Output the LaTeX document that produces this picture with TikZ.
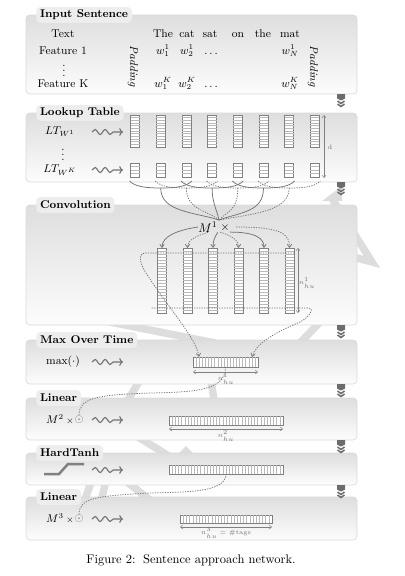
\documentclass[tikz,border=0pt]{standalone}
\usetikzlibrary{calc,decorations.pathmorphing,arrows.meta}
\newdimen\U
\U=0.8pt
\newcommand\hrowsof[2]{%
  \pgfmathtruncatemacro\nlastrow{#2-1}%
  \foreach \k in {1,...,\nlastrow}{%
    \draw[rowline] ($(#1.north west)!\k/#2!(#1.south west)$) -- ($(#1.north east)!\k/#2!(#1.south east)$);}}
\newcommand\vcolsof[2]{%
  \pgfmathtruncatemacro\nlastcol{#2-1}%
  \foreach \k in {1,...,\nlastcol}{%
    \draw[rowline] ($(#1.north west)!\k/#2!(#1.north east)$) -- ($(#1.south west)!\k/#2!(#1.south east)$);}}
\newcommand\vvec[6]{%
  \node[vecbox, anchor=north west, minimum width=#4*\U, minimum height=#5*\U] (#1) at (#2,#3) {};
  \hrowsof{#1}{#6}}
\newcommand\hvec[6]{%
  \node[vecbox, anchor=north west, minimum width=#4*\U, minimum height=#5*\U] (#1) at (#2,#3) {};
  \vcolsof{#1}{#6}}
\newcommand\stagebox[4]{%
  \node[stage, anchor=north west, minimum width=331*\U, minimum height=(#3-#2)*\U] (#1) at (26,#2) {};
  \node[tabbox] (#1t) at (36,#2) {#4};}
\newcommand\chevron[1]{%
  \fill[chevcol] (337,#1) -- (345,#1) -- (345,#1+4.5) -- (341,#1+6.5) -- (337,#1+4.5) -- cycle;
  \draw[chevcol, line width=1.2pt] (337.5,#1+7) -- (341,#1+9.5) -- (344.5,#1+7);
  \draw[chevcol, line width=1.2pt] (337.5,#1+10) -- (341,#1+12.5) -- (344.5,#1+10);}
\colorlet{chevcol}{gray!85!black}
\colorlet{linecol}{gray!90!black}
\tikzset{
  stage/.style={draw=gray!30, line width=0.5pt, rounded corners=3pt, top color=gray!26, bottom color=gray!2, inner sep=0pt, outer sep=0pt},
  tabbox/.style={fill=gray!14, rounded corners=3pt, font=\small\bfseries, inner xsep=3pt, inner ysep=1pt, minimum height=12.5pt, anchor=west},
  vecbox/.style={draw=gray, fill=white, inner sep=0pt, outer sep=0pt, line width=0.6pt},
  rowline/.style={gray!55, line width=0.3pt},
  conn/.style={linecol, line width=0.6pt},
  dotc/.style={linecol, line width=0.6pt, dash pattern=on 1pt off 1pt},
  tipa/.style={-{Straight Barb[length=2.5pt,width=3.5pt]}},
  dimarrow/.style={gray, line width=0.4pt, {Straight Barb[length=1.8pt,width=3pt]}-{Straight Barb[length=1.8pt,width=3pt]}},
  dimlabel/.style={font=\tiny, text=gray!90!black, inner sep=0.5pt},
  squig/.style={linecol, line width=0.9pt, decorate, decoration={snake, amplitude=2pt, segment length=8pt, post length=4pt}, -{To[length=3pt]}},
  txt/.style={font=\small, inner sep=0pt},
  bgband/.style={gray!27, line width=6pt, line cap=round},
}
\begin{document}
\begin{tikzpicture}[x=0.8pt, y=-0.8pt]
\useasboundingbox (0,0) rectangle (405,576);

% background decoration bands
\draw[bgband] (333,200) -- (372,262) -- (357,258);
\fill[gray!27] (322,201) -- (342,186) -- (342,201) -- cycle;
\draw[bgband] (110,322) -- (215,343);
\draw[bgband] (300,343) -- (322,320);
\draw[bgband] (140,380) -- (128,400);
\draw[bgband] (211,380) -- (214,400);
\draw[bgband] (135,435) -- (172,458);
\fill[gray!27] (176,456) -- (186,446) -- (196,456) -- cycle;
\draw[bgband] (92,480) -- (84,502);
\draw[bgband] (106,480) -- (101,502);
\draw[bgband] (127,482) -- (150,500);

% stages
\stagebox{b1}{15}{94}{Input Sentence}
\stagebox{b2}{113}{182}{Lookup Table}
\stagebox{b3}{205}{325}{Convolution}
\stagebox{b4}{340}{384}{Max Over Time}
\stagebox{b5}{398}{440}{Linear}
\stagebox{b6}{453}{485}{HardTanh}
\stagebox{b7}{497}{540}{Linear}

\chevron{94}
\chevron{182}
\chevron{325}
\chevron{384}
\chevron{440}
\chevron{485}

% ---------- Input sentence ----------
\node[txt, anchor=base] (ttext) at (63,37) {Text};
\node[txt, anchor=base] (tf1) at (63,54) {Feature 1};
\node[txt] (tvd) at (64,67) {$\vdots$};
\node[txt, anchor=base] (tfk) at (63,87) {Feature K};
\node[txt, rotate=-90] (padl) at (133,66) {\itshape Padding};
\node[txt, rotate=-90] (padr) at (313,66) {\itshape Padding};
\foreach \xx/\ww/\nm in {163/The/a,187/cat/b,210/sat/c,238/on/d,263/the/e,290/mat/f}
  \node[txt, anchor=base] (word\nm) at (\xx,37) {\ww};
\node[txt, anchor=base] (w11) at (163,54) {$w_1^1$};
\node[txt, anchor=base] (w21) at (187,54) {$w_2^1$};
\node[txt, anchor=base] (wd1) at (211,54) {$\ldots$};
\node[txt, anchor=base] (wn1) at (290,54) {$w_N^1$};
\node[txt, anchor=base] (w1k) at (163,87) {$w_1^K$};
\node[txt, anchor=base] (w2k) at (187,87) {$w_2^K$};
\node[txt, anchor=base] (wdk) at (211,87) {$\ldots$};
\node[txt, anchor=base] (wnk) at (290,87) {$w_N^K$};

% ---------- Lookup table ----------
\node[txt] (lt1) at (60,132) {$LT_{W^1}$};
\node[txt] (ltd) at (63,151) {$\vdots$};
\node[txt] (ltk) at (60,170) {$LT_{W^K}$};
\coordinate (sq1a) at (92,132); \coordinate (sq1b) at (123,132);
\coordinate (sq2a) at (92,170); \coordinate (sq2b) at (123,170);
\draw[squig] (sq1a) -- (sq1b);
\draw[squig] (sq2a) -- (sq2b);
\foreach \i in {1,...,8}{
  \pgfmathsetmacro\cx{135+25.7*(\i-1)-4.5}
  \vvec{T\i}{\cx}{115}{9}{32}{12}
  \vvec{S\i}{\cx}{163}{9}{14}{4}
}
\coordinate (dtop) at (324,115); \coordinate (dbot) at (324,178);
\draw[dimarrow] (dtop) -- (dbot);
\node[dimlabel] (dlab) at (330,147) {d};

% windows (braces)
\foreach \w in {1,3,5}{
  \pgfmathtruncatemacro\m{\w+1}\pgfmathtruncatemacro\e{\w+2}
  \draw[conn] ($(S\w.south west)+(-1,4)$) .. controls +(6,6) and +(-14,0) .. ($(S\m.south)+(0,11)$) .. controls +(14,0) and +(-6,6) .. ($(S\e.south east)+(1,4)$);
}
\foreach \w in {2,4,6}{
  \pgfmathtruncatemacro\m{\w+1}\pgfmathtruncatemacro\e{\w+2}
  \draw[dotc] ($(S\w.south west)+(-1,4)$) .. controls +(6,6) and +(-14,0) .. ($(S\m.south)+(0,11)$) .. controls +(14,0) and +(-6,6) .. ($(S\e.south east)+(1,4)$);
}

% ---------- Convolution ----------
\node[txt, font=\normalsize, inner sep=0pt] (m1) at (208,227) {$M^1$};
\node[txt, inner sep=0pt] (x1) at (225,228) {$\times$};
\coordinate (hub) at (219,220);
\coordinate (dotsrc) at (236,227);
\draw[conn] ($(S2.south)+(0,11)$) .. controls +(0,24) and +(-25,-8) .. (hub);
\draw[dotc] ($(S3.south)+(0,11)$) .. controls +(0,22) and +(-12,-10) .. (hub);
\draw[conn] ($(S4.south)+(0,11)$) .. controls +(0,15) and +(-2,-10) .. (hub);
\draw[dotc] ($(S5.south)+(0,11)$) .. controls +(0,22) and +(10,-10) .. (hub);
\draw[conn] ($(S6.south)+(0,11)$) .. controls +(0,24) and +(22,-8) .. (hub);
\draw[dotc] ($(S7.south)+(0,11)$) .. controls +(0,24) and +(32,-6) .. (hub);

\foreach \i in {1,...,6}{
  \pgfmathsetmacro\cx{162+25.5*(\i-1)-4.5}
  \vvec{O\i}{\cx}{248}{9}{65}{22}
}
\draw[conn, tipa] (m1.west) .. controls (178,230) and ($(O1.north)+(0,-12)$) .. (O1.north);
\draw[dotc, tipa] (m1.south) .. controls (196,236) and ($(O2.north)+(0,-8)$) .. (O2.north);
\draw[conn, tipa] (m1.south east) .. controls (214,238) and ($(O3.north)+(0,-6)$) .. (O3.north);
\draw[dotc, tipa] (x1.south west) .. controls (232,236) and ($(O4.north)+(0,-8)$) .. (O4.north);
\draw[conn, tipa] (x1.south east) .. controls (255,232) and ($(O5.north)+(0,-10)$) .. (O5.north);
\draw[dotc, tipa] (dotsrc) .. controls (282,227) and ($(O6.north)+(0,-14)$) .. (O6.north);

\coordinate (ntop) at (298,248); \coordinate (nbot) at (298,313);
\draw[dimarrow] (ntop) -- (nbot);
\node[dimlabel] (n1lab) at (307,283) {$n^1_{hu}$};

% ---------- Max over time ----------
\node[txt] (maxop) at (63,362) {$\max(\cdot)$};
\coordinate (sq3a) at (92,362); \coordinate (sq3b) at (123,362);
\draw[squig] (sq3a) -- (sq3b);
\hvec{mx}{193}{357}{65}{10}{21}
\draw[dotc, tipa] ($(O6.north east)+(0,5)$) -- ($(O1.north west)+(-12,5)$) .. controls +(-10,0) and +(-6,-8) .. (148,276) .. controls (170,310) and (196,338) .. ($(mx.north west)+(6,0)$);
\draw[dotc, tipa] ($(O1.south west)+(-6,-5)$) -- ($(O6.south east)+(14,-5)$) .. controls +(8,0) and +(8,-4) .. (300,322) .. controls (272,334) and (256,344) .. ($(mx.north east)+(-6,0)$);
\coordinate (mxa) at (193,372); \coordinate (mxb) at (258,372);
\draw[dimarrow] (mxa) -- (mxb);
\node[dimlabel] (mxlab) at (226,379) {$n^1_{hu}$};

% ---------- Linear 1 ----------
\node[txt] (m2) at (55,419) {$M^2$};
\node[txt, font=\scriptsize] (x2) at (70,421) {$\times$};
\node[txt, text=linecol] (o2) at (79,420) {$\odot$};
\coordinate (sq4a) at (92,420); \coordinate (sq4b) at (123,420);
\draw[squig] (sq4a) -- (sq4b);
\hvec{l2}{169}{416}{114}{9}{36}
\coordinate (l2a) at (169,429); \coordinate (l2b) at (283,429);
\draw[dimarrow] (l2a) -- (l2b);
\node[dimlabel] (l2lab) at (226,436) {$n^2_{hu}$};
\draw[dotc] (mx.south) .. controls (226,392) and (190,392) .. (150,393) .. controls (95,395) and (79,398) .. (o2.north);

% ---------- HardTanh ----------
\draw[gray, line width=2pt] (44,474) -- (59,474) -- (68,464) -- (84,464);
\coordinate (sq5a) at (92,470); \coordinate (sq5b) at (123,470);
\draw[squig] (sq5a) -- (sq5b);
\hvec{ht}{169}{465}{114}{9}{36}

% ---------- Linear 2 ----------
\node[txt] (m3) at (55,518) {$M^3$};
\node[txt, font=\scriptsize] (x3) at (70,520) {$\times$};
\node[txt, text=linecol] (o3) at (79,519) {$\odot$};
\coordinate (sq6a) at (92,519); \coordinate (sq6b) at (123,519);
\draw[squig] (sq6a) -- (sq6b);
\hvec{l3}{180}{515}{92}{8}{29}
\coordinate (l3a) at (180,527); \coordinate (l3b) at (272,527);
\draw[dimarrow] (l3a) -- (l3b);
\node[dimlabel] (l3lab) at (226,533) {$n^3_{hu}=\#$tags};
\draw[dotc] (ht.south) .. controls (226,492) and (190,492) .. (150,493) .. controls (95,496) and (79,498) .. (o3.north);

% caption
\node[font=\normalsize, inner sep=0pt] (caption) at (191,560) {Figure 2:\hspace{0.6em}Sentence approach network.};
\end{tikzpicture}
\end{document}
